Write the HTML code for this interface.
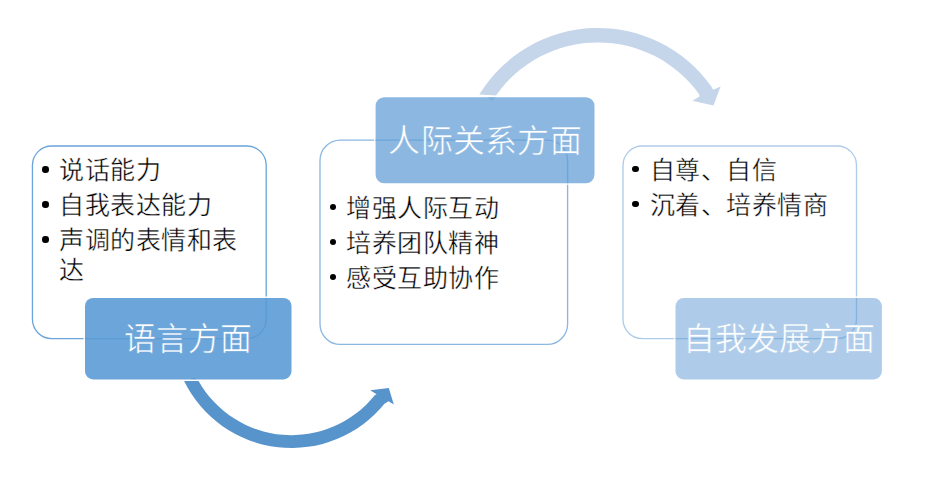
<!DOCTYPE html>
<html lang="zh-CN"><head><meta charset="utf-8">
<style>
html,body{margin:0;padding:0;background:#fff;}
body{width:931px;height:490px;position:relative;overflow:hidden;font-family:"Liberation Serif",serif;}
svg{position:absolute;left:0;top:0;}
.l{position:absolute;color:#000;font-size:25px;line-height:25px;letter-spacing:0.5px;white-space:nowrap;-webkit-text-stroke:0.4px #fff;}
.b{position:absolute;width:6.5px;height:6.5px;border-radius:50%;background:#000;}
.lb{position:absolute;color:#fff;font-size:32px;line-height:32px;white-space:nowrap;}
</style></head><body>
<svg width="931" height="490" viewBox="0 0 931 490">
  <rect x="32.45" y="146.0" width="233.75" height="192.60" rx="19.3" fill="#fff" fill-opacity="0.9" stroke="#5B9BD5" stroke-opacity="0.9" stroke-width="1.33"/>
  <rect x="320.0" y="140.1" width="247.60" height="204.30" rx="20.4" fill="#fff" fill-opacity="0.9" stroke="#7EAFDE" stroke-opacity="0.9" stroke-width="1.33"/>
  <rect x="623.0" y="146.0" width="233.50" height="192.60" rx="19.3" fill="#fff" fill-opacity="0.9" stroke="#A5C6E8" stroke-opacity="0.9" stroke-width="1.33"/>
  <path d="M184.09 381.00 A119.6 119.6 0 0 0 384.45 403.67 L388.5 401.2 L393.8 404.6 L388.8 388.1 L370.2 390.2 L376.6 394.3 L374.50 395.61 A106.8 106.8 0 0 1 198.55 381.00 Z" fill="#5794CB"/>
  <path d="M479.34 94.6 A139 139 0 0 1 711.16 86.28 L713.1 89.8 L720.6 86.4 L713.5 105.4 L692.4 100.8 L699.3 96.7 L699.44 94.64 A124.6 124.6 0 0 0 496.03 95.4 Z" fill="#C5D5EA"/>
  <rect x="84.25" y="297.15" width="208.00" height="83.10" rx="8.95" fill="none" stroke="#fff" stroke-width="1.5"/>
  <rect x="85.0" y="297.9" width="206.50" height="81.60" rx="8.2" fill="#5B9BD5" fill-opacity="0.9"/>
  <rect x="374.85" y="96.45" width="220.40" height="87.50" rx="9.35" fill="none" stroke="#fff" stroke-width="1.5"/>
  <rect x="375.6" y="97.2" width="218.90" height="86.00" rx="8.6" fill="#7EAFDE" fill-opacity="0.9"/>
  <rect x="674.75" y="297.25" width="207.90" height="83.00" rx="8.95" fill="none" stroke="#fff" stroke-width="1.5"/>
  <rect x="675.5" y="298.0" width="206.40" height="81.50" rx="8.2" fill="#A5C6E8" fill-opacity="0.9"/>
  <path d="M487.2 97.3 L495.6 97.3 L492.3 100.8 Z" fill="#5B9BD5" fill-opacity="0.35"/>
  <path d="M190.2 379.4 L196.8 379.4 L194.4 377.4 Z" fill="#4A88C0" fill-opacity="0.3"/>
  <defs>
    <clipPath id="c1"><rect x="85.0" y="297.9" width="206.50" height="81.60" rx="8.2"/></clipPath>
    <clipPath id="c2"><rect x="375.6" y="97.2" width="218.90" height="86.00" rx="8.6"/></clipPath>
    <clipPath id="c3"><rect x="675.5" y="298.0" width="206.40" height="81.50" rx="8.2"/></clipPath>
  </defs>
  <rect x="32.45" y="146.0" width="233.75" height="192.60" rx="19.3" fill="none" stroke="#5B9BD5" stroke-opacity="0.25" stroke-width="1.33" clip-path="url(#c1)"/>
  <rect x="320.0" y="140.1" width="247.60" height="204.30" rx="20.4" fill="none" stroke="#5B9BD5" stroke-opacity="0.5" stroke-width="1.33" clip-path="url(#c2)"/>
  <rect x="623.0" y="146.0" width="233.50" height="192.60" rx="19.3" fill="none" stroke="#5B9BD5" stroke-opacity="0.45" stroke-width="1.33" clip-path="url(#c3)"/>
  </svg>
<div class="b" style="left:42.15px;top:166.05px"></div>
<div class="b" style="left:42.15px;top:201.05px"></div>
<div class="b" style="left:42.15px;top:236.05px"></div>
<div class="b" style="left:329.85px;top:203.85px"></div>
<div class="b" style="left:329.85px;top:238.75px"></div>
<div class="b" style="left:329.85px;top:273.55px"></div>
<div class="b" style="left:632.15px;top:165.85px"></div>
<div class="b" style="left:632.15px;top:200.65px"></div>
<div class="l" style="left:59px;top:158.4px">说话能力</div>
<div class="l" style="left:59px;top:193.3px">自我表达能力</div>
<div class="l" style="left:59px;top:228.3px">声调的表情和表</div>
<div class="l" style="left:59px;top:257.9px">达</div>

<div class="l" style="left:346px;top:196.2px">增强人际互动</div>
<div class="l" style="left:346px;top:231px">培养团队精神</div>
<div class="l" style="left:346px;top:265.8px">感受互助协作</div>

<div class="l" style="left:649.5px;top:157.8px">自尊、自信</div>
<div class="l" style="left:649.5px;top:192.5px">沉着、培养情商</div>

<div class="lb" style="left:124px;top:322.6px;-webkit-text-stroke:0.55px #6BA5D9">语言方面</div>
<div class="lb" style="left:388.3px;top:124.8px;letter-spacing:0.3px;-webkit-text-stroke:0.55px #8BB7E1">人际关系方面</div>
<div class="lb" style="left:682.5px;top:322.8px;-webkit-text-stroke:0.55px #AECCEA">自我发展方面</div>
</body></html>
